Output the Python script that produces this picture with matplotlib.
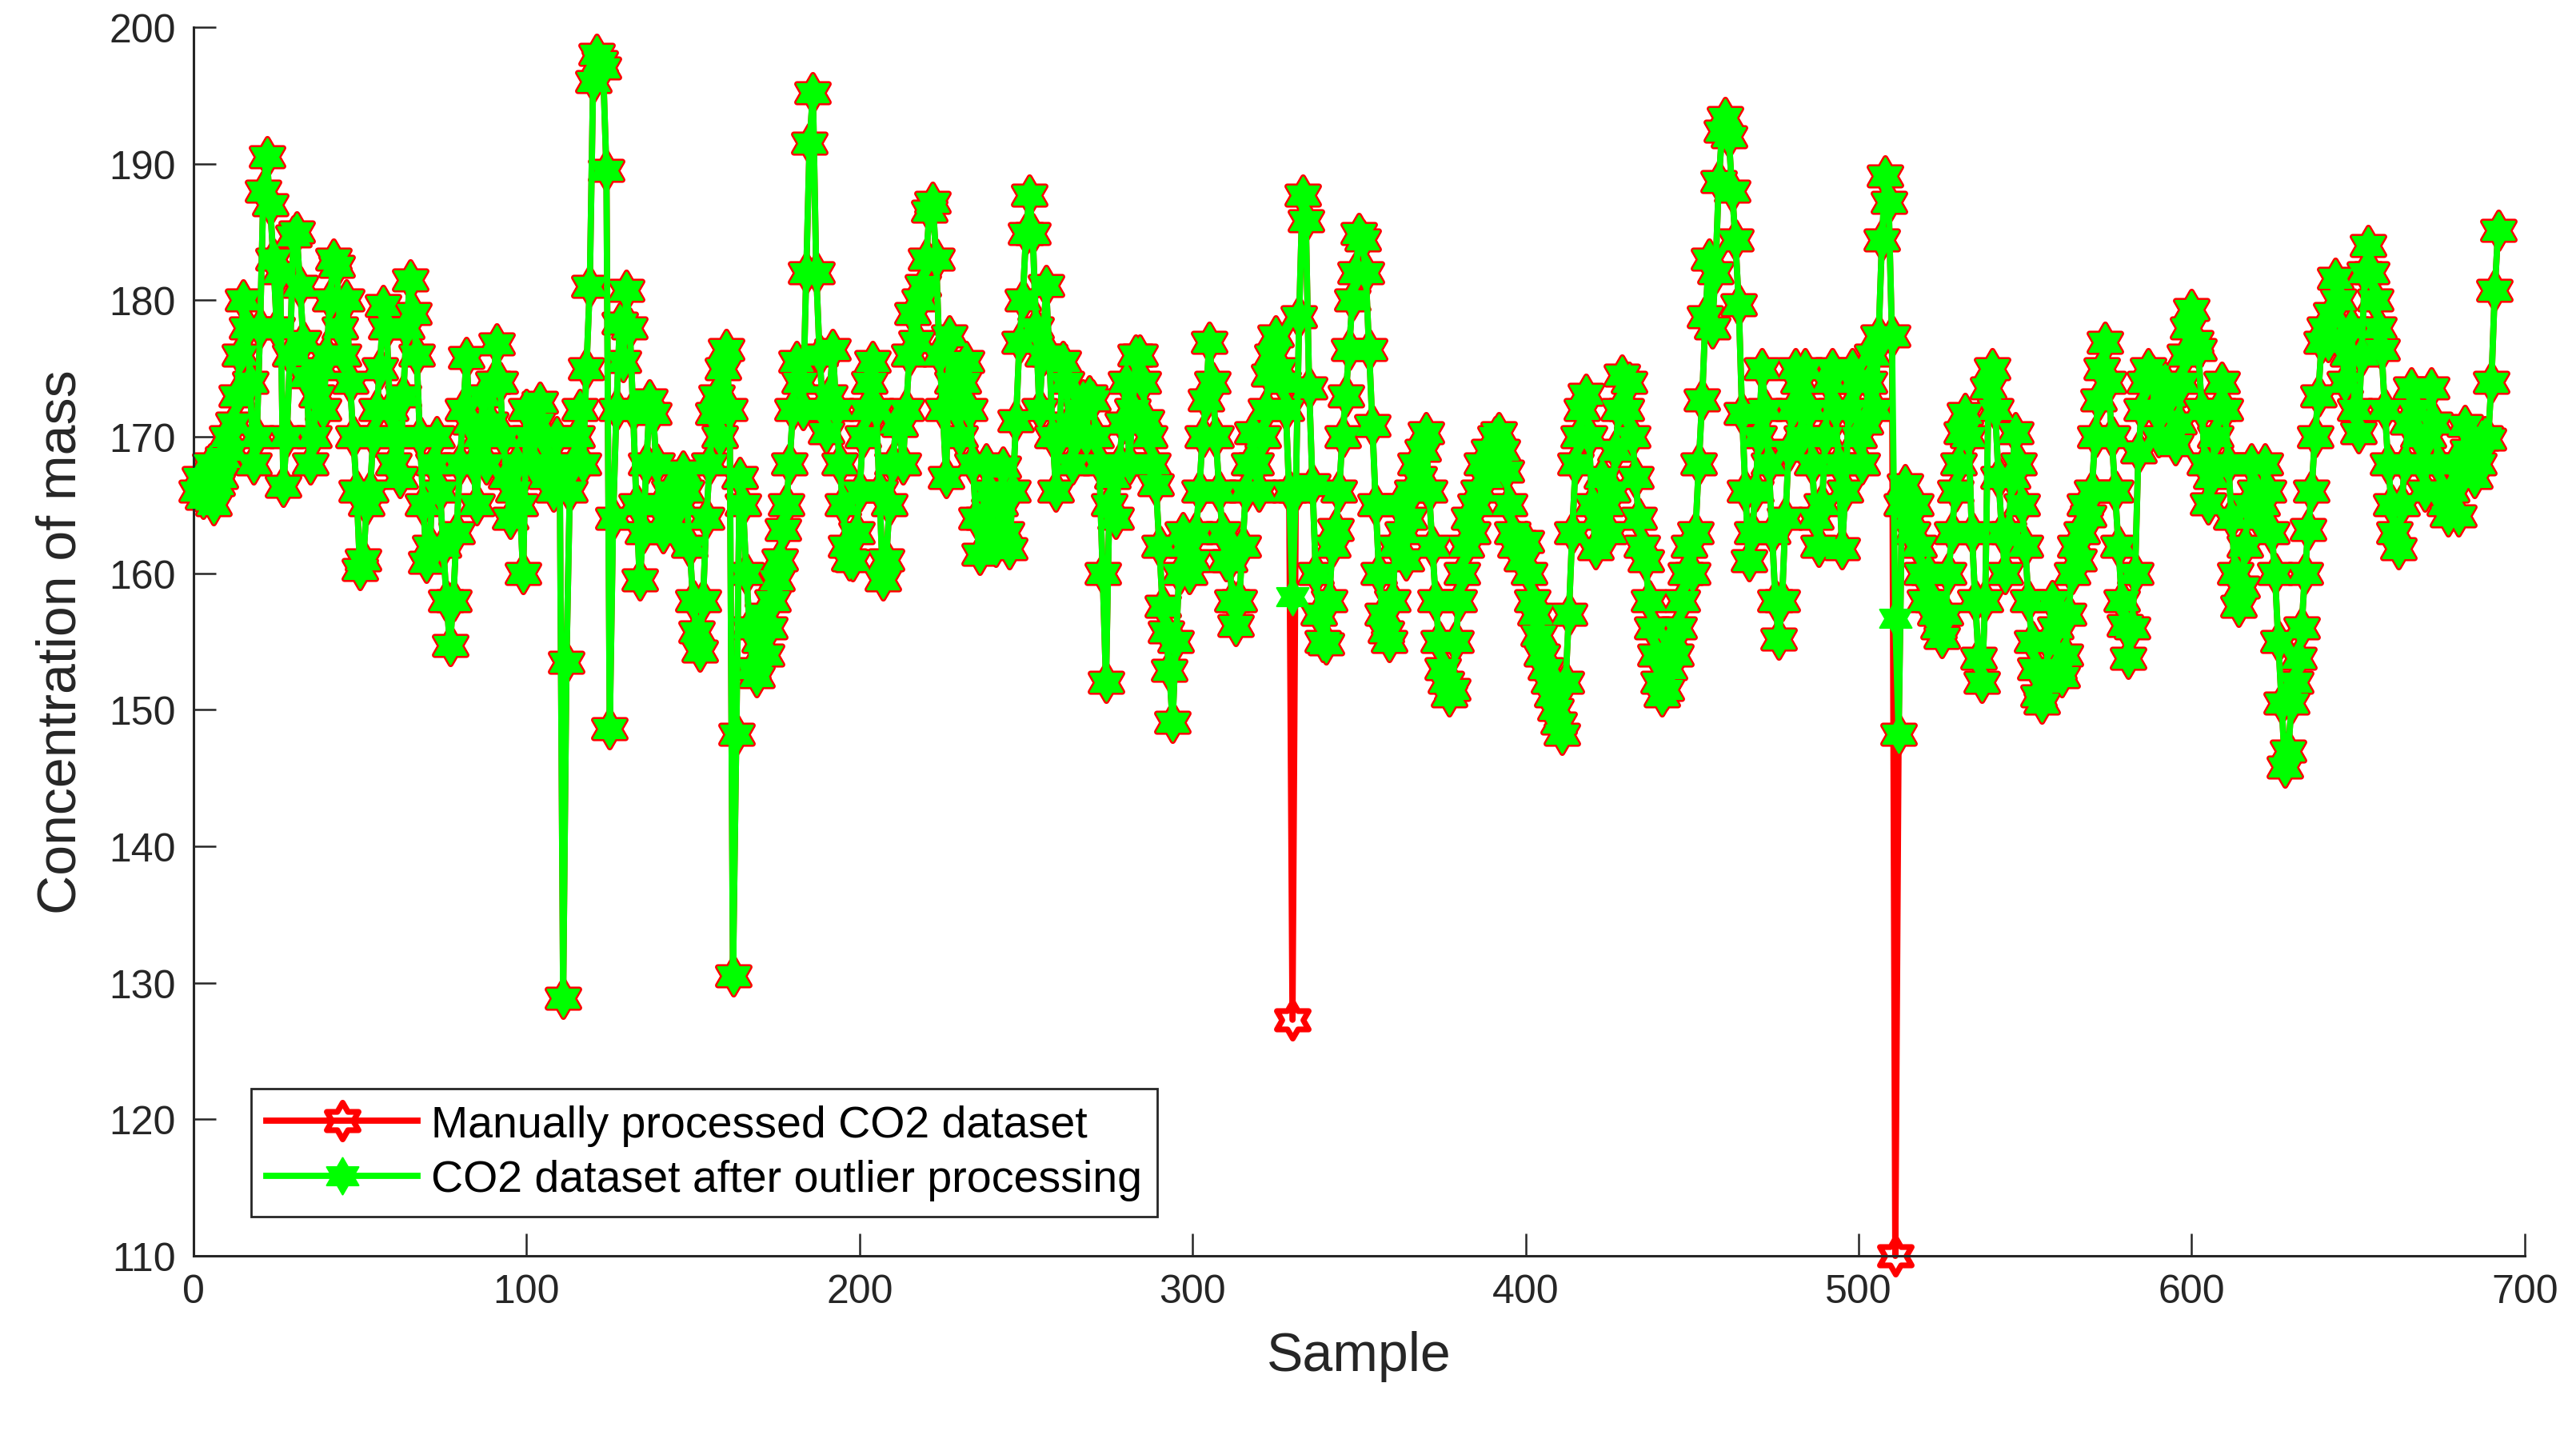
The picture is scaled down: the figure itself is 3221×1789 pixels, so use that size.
import numpy as np
import matplotlib
matplotlib.use("Agg")
from matplotlib import pyplot as plt
from matplotlib.path import Path

# CO2 concentration after outlier processing, samples 1..692
co2_clean = [
    166, 167, 165.5, 166, 168, 165, 166.5, 167, 168.5, 170,
    169, 171, 173, 176, 180, 178, 174, 168, 170, 178,
    188, 190.5, 187, 183, 178, 182, 166.4, 170, 176, 184.7,
    185, 181, 177, 174.4, 168, 170, 173, 175, 172, 176,
    180, 183, 182.5, 178, 176, 180, 174, 170, 166, 160.3,
    161, 165, 166, 170, 172, 175, 179.6, 178, 172, 168,
    170, 167, 173, 178, 181.5, 179, 176, 170, 165, 160.8,
    162, 168, 170, 166, 162, 158, 154.7, 158, 163, 168,
    172, 175.8, 171, 168, 165, 170, 173, 168, 171, 174,
    176.8, 174, 170, 167, 164, 166, 168, 165, 160, 172,
    170, 168, 171, 172.5, 170, 167, 168, 166, 170, 167,
    128.9, 153.5, 166, 168, 170, 172, 168, 175, 181, 196,
    198, 197.5, 197, 189.5, 148.6, 164, 172, 178.3, 175.5, 180.7,
    178, 172, 165, 159.5, 163, 168, 172.7, 171.7, 168, 165,
    163, 164, 166, 165, 163, 165, 167.5, 166, 162, 158,
    155.7, 154.3, 158, 164, 168, 171.7, 173, 170, 175, 176.4,
    172, 130.5, 148.2, 167, 165, 160, 156, 153, 152.4, 155,
    157, 154, 156, 158, 159.5, 161, 163.2, 165, 168, 172,
    175.5, 174, 172, 182, 191.5, 195.2, 182, 176, 172, 170.3,
    173, 176.4, 172, 168, 165, 162, 161, 160.9, 163, 166,
    170, 172, 174, 175.5, 172, 166, 159.5, 161, 165, 168,
    171, 170.8, 168, 172, 176, 179, 177, 180, 181.1, 183,
    186.5, 187.2, 183, 176, 172, 167, 177.4, 174, 172, 170,
    174, 175.5, 172, 168, 164, 161.4, 164, 168, 166, 163,
    162, 165, 167.8, 163, 161.8, 166, 171.2, 176.9, 180, 184.9,
    187.7, 184.9, 178, 172, 176, 181.1, 176, 170, 166, 170,
    175.5, 174, 171, 168, 170, 172, 172.7, 170, 173, 172.7,
    170, 168, 160, 152, 165, 167, 164, 168, 171, 174,
    168, 172, 176, 176, 174, 171.2, 170, 168, 166.5, 162,
    157.6, 155.7, 152.9, 149.1, 155, 160, 163, 162, 160, 160.9,
    163, 166, 170, 172.7, 176.9, 174, 170, 166, 163, 160.9,
    160.9, 158, 156.2, 158, 162, 166, 168, 170.3, 168, 166,
    170, 172, 174.5, 176, 177.4, 175, 174, 172, 166, 158.3,
    166, 178.8, 187.7, 185.8, 173.6, 166.5, 160, 157, 155, 154.8,
    158, 162, 163.2, 166, 170, 173, 176.4, 180, 182, 184.9,
    184.4, 182, 176.4, 170.8, 165, 160, 157, 155.7, 155, 158,
    162, 165, 163, 161, 164, 166, 168, 167, 169, 170.3,
    166, 162, 158, 155, 153, 152, 151, 151.5, 155, 158,
    160, 162, 164, 163, 165, 166, 168, 167, 169, 168,
    170, 170.3, 169, 167.5, 165, 163, 162, 162.3, 161, 162.3,
    160, 158, 157, 155.5, 154, 153, 152, 151, 150, 149,
    148.2, 152, 157, 163, 168, 170, 172, 173.1, 170, 165,
    161.8, 164, 167, 165, 163, 166, 169, 172, 174.5, 172,
    174, 170, 167, 164, 162, 160.9, 158, 156, 154, 152,
    151, 151.5, 153, 155, 154, 156, 158, 160, 162, 160,
    163, 168, 172.7, 178.8, 183, 178, 182, 188.7, 192.4, 193.4,
    192, 188, 184.4, 179.7, 171.7, 166, 160.9, 163, 166, 170,
    175, 172, 168, 163, 158, 155.2, 158, 164, 169, 172,
    175, 174, 170, 175, 172, 168, 164, 162, 165, 170,
    174, 175, 172, 168, 161.8, 166, 172, 175, 174, 170,
    168, 171, 174, 176, 172, 177.4, 184.4, 189.1, 187.2, 177.4,
    156.7, 148.2, 165, 166.5, 164, 163, 165, 162, 160, 158,
    160, 158, 157, 156, 155.3, 157, 160, 163, 166, 168,
    170.3, 171.7, 170, 163, 158, 153.8, 152, 158, 173.6, 175,
    172, 167, 163, 160, 163, 167, 170.3, 168, 165, 162,
    158, 155, 153, 151, 150.5, 152, 155, 158, 156, 153,
    152.4, 154, 157, 160, 162, 161, 163, 165, 164.2, 166,
    170, 172.7, 175, 176.9, 174, 170, 166, 162, 158, 156.2,
    153.8, 156, 160, 168.9, 172, 174, 175, 174.5, 172, 170,
    172, 174, 173, 170, 169.4, 171, 174, 176, 178, 179.3,
    177, 176.4, 172, 168, 165.1, 167, 170, 172, 174, 172,
    168, 164, 160, 157.6, 159, 162, 165, 168, 166, 164,
    165, 168, 166, 163, 160, 155, 150.5, 145.8, 147, 150.5,
    152, 153.8, 156, 160, 163.2, 166, 170, 173, 176.9, 178,
    177, 179, 181.6, 180, 177, 174, 176, 178, 172, 170.3,
    176, 182, 184, 182, 180, 178, 176.4, 172, 168, 165,
    163, 161.8, 165, 168, 171, 173.6, 172, 170, 168, 166,
    170, 173.6, 171, 168, 166, 165, 164.2, 166, 168, 164.2,
    167, 170.8, 169, 168, 167, 168, 169.8, 170, 169.8, 174,
    180.7, 185.1,
]

# samples where the manual dataset still holds the outliers
outlier_samples = [330, 511]
outlier_values = [127.3, 110.0]

labels = ["Manually processed CO2 dataset", "CO2 dataset after outlier processing"]
x_ticks = [0, 100, 200, 300, 400, 500, 600, 700]
y_ticks = [110, 120, 130, 140, 150, 160, 170, 180, 190, 200]

samples = np.arange(1, len(co2_clean) + 1)
co2_manual = np.array(co2_clean, dtype=float)
for s, v in zip(outlier_samples, outlier_values):
    co2_manual[s - 1] = v

# MATLAB style hexagram marker
ang = np.pi / 2 + np.arange(12) * np.pi / 6
rad = np.where(np.arange(12) % 2 == 0, 1.0, 1 / np.sqrt(3))
verts = np.column_stack([rad * np.cos(ang), rad * np.sin(ang)])
verts = np.vstack([verts, verts[:1]])
hexagram = Path(verts, [Path.MOVETO] + [Path.LINETO] * 11 + [Path.CLOSEPOLY])

plt.rcParams['font.family'] = ['Liberation Sans', 'DejaVu Sans']
dark = '#262626'

fig = plt.figure(figsize=(16.105, 8.95), dpi=200)
ax = fig.add_axes([0.0751, 0.1223, 0.905, 0.8581])

ax.plot(samples, co2_manual, color='red', lw=2.8, marker=hexagram, ms=16.5,
        mfc='none', mec='red', mew=2.6, clip_on=False, label=labels[0], zorder=2)
ax.plot(samples, co2_clean, color=(0, 1, 0), lw=2.8, marker=hexagram, ms=16.5,
        mfc=(0, 1, 0), mec=(0, 1, 0), mew=0.8, clip_on=False, label=labels[1], zorder=3)

ax.set_xlim(0, 700)
ax.set_ylim(110, 200)
ax.set_xticks(x_ticks)
ax.set_yticks(y_ticks)
ax.tick_params(direction='in', length=10, width=0.9, colors=dark, labelsize=18, pad=8)
for side in ['top', 'right']:
    ax.spines[side].set_visible(False)
for side in ['left', 'bottom']:
    ax.spines[side].set_color(dark)
    ax.spines[side].set_linewidth(1.1)

ax.set_xlabel('Sample', fontsize=24.5, color=dark, labelpad=9)
ax.set_ylabel('Concentration of mass', fontsize=24.5, color=dark, labelpad=10)

leg = ax.legend(loc='lower left', bbox_to_anchor=(0.0247, 0.032), borderaxespad=0,
                fontsize=20, handlelength=3.4, numpoints=1, fancybox=False,
                framealpha=1, edgecolor=dark, borderpad=0.35, labelspacing=0.3,
                handletextpad=0.3)
leg.get_frame().set_linewidth(1.0)

fig.savefig('out.png', dpi=200)
